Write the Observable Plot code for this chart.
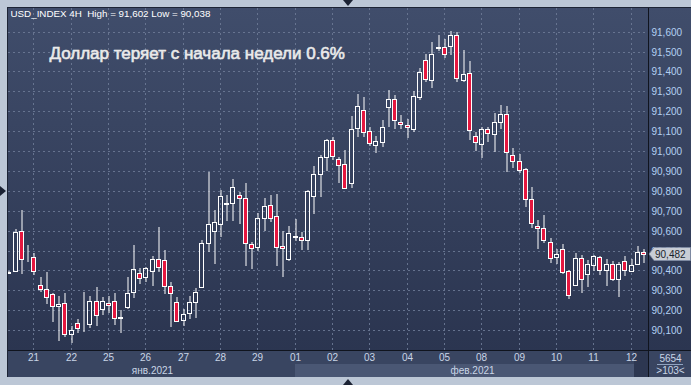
<!DOCTYPE html>
<html><head><meta charset="utf-8">
<script src="https://cdn.jsdelivr.net/npm/d3@7"></script>
<script src="https://cdn.jsdelivr.net/npm/@observablehq/plot@0.6"></script>
<style>
html,body{margin:0;padding:0;background:#bcc7d6;}
#wrap{position:relative;width:691px;height:385px;overflow:hidden;background:#bcc7d6;font-family:"Liberation Sans",Arial,sans-serif;}
#panel{position:absolute;left:7px;top:7px;width:684px;height:370px;background:linear-gradient(to bottom,#404d6b 0px,#2b3550 343px,#394561 343px,#394561 370px);border-left:1px solid #1d2435;border-top:1px solid #1d2435;box-sizing:border-box;}
#feb{position:absolute;left:295px;top:364px;width:339px;height:13px;background:#4a5774;}
#scroll{position:absolute;left:634px;top:351px;width:14px;height:26px;background:#2d3751;}
#hline{position:absolute;left:8px;top:350px;width:683px;height:1px;background:#10141e;}
#vline{position:absolute;left:648px;top:8px;width:1px;height:369px;background:#10141e;}
#sep{position:absolute;left:657px;top:364px;width:26px;height:1px;background:#8fa3c0;}
.tri{position:absolute;width:0;height:0;}
#tTop{left:343px;top:0;border-left:5px solid transparent;border-right:5px solid transparent;border-top:6px solid #1b2233;}
#tBot{left:343px;top:379px;border-left:5px solid transparent;border-right:5px solid transparent;border-bottom:6px solid #1b2233;}
#tLeft{left:0;top:186px;border-top:5px solid transparent;border-bottom:5px solid transparent;border-left:6px solid #1b2233;}
svg{position:absolute;left:0;top:0;}
</style></head>
<body>
<div id="wrap">
  <div id="panel"></div>
  <div id="feb"></div>
  <div id="scroll"></div>
  <div id="hline"></div>
  <div id="vline"></div>
  <div id="sep"></div>
  <div class="tri" id="tTop"></div>
  <div class="tri" id="tBot"></div>
  <div class="tri" id="tLeft"></div>
</div>
<script>
// ---- data ----
const title = "USD_INDEX 4H  High = 91,602 Low = 90,038";
const headline = "Доллар теряет с начала недели 0.6%";
const dayLabels = ["21","22","25","26","27","28","29","01","02","03","04","05","08","09","10","11","12"];
const dayStart = [4,10,16,22,28,34,40,46,52,58,64,70,76,82,88,94,100];
const monthLabels = ["янв.2021","фев.2021"];
const monthFrom = [0,46];
const monthTo = [46,103];
const yTicks = [90100,90200,90300,90400,90500,90600,90700,90800,90900,91000,91100,91200,91300,91400,91500,91600];
const lastPrice = 90482;
const cornerTop = "5654";
const cornerBottom = ">103<";

const open = [90389,90399,90599,90466,90467,90328,90306,90283,90221,90236,
90080,90135,90110,90133,90246,90205,90235,90246,90162,90218,
90291,90386,90366,90396,90456,90451,90321,90243,90150,90185,
90241,90319,90537,90597,90632,90735,90740,90778,90763,90532,
90517,90665,90728,90672,90524,90459,90568,90567,90555,90776,
90886,90972,91056,90959,90934,90838,91115,91205,91100,91031,
91044,91222,91260,91145,91133,91113,91270,91456,91356,91517,
91521,91526,91582,91356,91391,91075,91034,91110,91085,91145,
91185,90979,90949,90909,90758,90622,90612,90545,90466,90506,
90396,90326,90461,90381,90428,90466,90401,90434,90358,90446,
90399,90434,90492];
const high = [90396,90608,90704,90528,90486,90368,90393,90289,90273,90288,
90122,90157,90293,90273,90318,90268,90273,90288,90200,90368,
90528,90411,90418,90473,90619,90503,90341,90266,90207,90273,
90311,90554,90893,90702,90805,90780,90860,90793,90838,90542,
90687,90765,90778,90783,90597,90625,90659,90592,90806,90925,
90979,91062,91069,90972,91004,91175,91285,91272,91122,91076,
91157,91307,91282,91182,91160,91300,91416,91486,91546,91584,
91563,91602,91597,91508,91453,91098,91122,91122,91192,91232,
91225,91014,90984,90914,90818,90652,90677,90565,90509,90533,
90401,90489,90476,90454,90476,90473,90456,90446,90441,90474,
90456,90523,90509];
const low = [90386,90396,90383,90444,90376,90294,90233,90143,90048,90068,
90038,90085,90093,90110,90122,90177,90185,90128,90088,90207,
90264,90331,90341,90324,90394,90284,90118,90142,90123,90157,
90163,90311,90492,90431,90570,90650,90650,90632,90424,90409,
90500,90600,90645,90424,90366,90448,90550,90505,90505,90686,
90771,90901,90956,90838,90808,90813,91070,91070,91027,90989,
91022,91123,91110,91110,91065,91095,91257,91349,91319,91503,
91466,91483,91346,91346,91057,91001,90967,91047,90997,91110,
90897,90917,90889,90721,90612,90507,90537,90436,90431,90383,
90255,90323,90289,90316,90398,90379,90324,90348,90269,90373,
90394,90426,90439];
const close = [90393,90592,90456,90469,90399,90306,90266,90224,90233,90080,
90100,90110,90112,90246,90175,90246,90225,90160,90165,90288,
90406,90361,90411,90456,90418,90321,90286,90145,90180,90243,
90291,90537,90632,90642,90773,90739,90818,90763,90540,90512,
90662,90723,90662,90520,90512,90587,90572,90555,90798,90883,
90969,91054,90977,90929,90813,91113,91227,91095,91039,91049,
91120,91260,91155,91135,91123,91275,91396,91363,91486,91521,
91486,91582,91366,91386,91105,91044,91110,91090,91145,91185,
90994,90949,90904,90758,90637,90612,90552,90461,90481,90391,
90278,90461,90358,90431,90471,90401,90434,90356,90431,90401,
90429,90492,90482];

// ---- build ----
const candles = open.map((o, i) => ({
  k: i, open: o, high: high[i], low: low[i], close: close[i],
  top: Math.max(o, close[i]), bot: Math.min(o, close[i]), up: close[i] >= o
}));
const months = monthLabels.map((m, i) => ({label: m, mid: (monthFrom[i] + monthTo[i]) / 2}));
const hw = 2 / 6.2216;
const axisColor = "#b3d0f2";
const labelColor = "#c9d5e6";

const chart = Plot.plot({
  width: 691, height: 385,
  marginLeft: 8, marginRight: 43, marginTop: 8, marginBottom: 35,
  style: {background: "transparent", fontFamily: "'Liberation Sans', Arial, sans-serif", overflow: "visible"},
  x: {domain: [-0.064, 102.796], round: true, axis: null},
  y: {domain: [90000.5, 91719], round: true, axis: null},
  marks: [
    Plot.gridY(yTicks, {stroke: "#6b7995", strokeOpacity: 0.9, strokeDasharray: "2,3"}),
    Plot.gridX(dayStart, {stroke: "#6b7995", strokeOpacity: 0.9, strokeDasharray: "2,3"}),
    Plot.axisY(yTicks, {anchor: "right", tickSize: 0, tickPadding: 3, tickFormat: d3.format(","), fill: axisColor, fontSize: 10}),
    Plot.axisX(dayStart, {anchor: "bottom", tickSize: 0, tickPadding: 3, tickFormat: d => dayLabels[dayStart.indexOf(d)], fill: labelColor, fontSize: 10}),
    Plot.text(months, {x: "mid", text: "label", frameAnchor: "bottom", dy: 20, lineAnchor: "middle", fill: labelColor, fontSize: 10}),
    Plot.ruleX(candles, {x: "k", y1: "top", y2: "high", stroke: "#ffffff", strokeWidth: 1, dx: 0.5, clip: true}),
    Plot.ruleX(candles, {x: "k", y1: "low", y2: "bot", stroke: "#ffffff", strokeWidth: 1, dx: 0.5, clip: true}),
    Plot.rect(candles, {x1: d => d.k - hw, x2: d => d.k + hw, y1: "open", y2: "close",
      fill: d => d.up ? "none" : "#e5173f", stroke: "#ffffff", strokeWidth: 1, dx: 0.5, dy: 0.5, clip: true}),
    Plot.text([title], {frameAnchor: "top-left", dx: 2, dy: 2, lineAnchor: "top", fill: "#ffffff", fontSize: 9.8}),
    Plot.text([headline], {frameAnchor: "top-left", dx: 41, dy: 38, lineAnchor: "top", fill: "#eaeaea", stroke: "#eaeaea", strokeWidth: 0.6, fontSize: 17}),
    Plot.text([cornerTop], {frameAnchor: "bottom-right", dx: 22, dy: 8, textAnchor: "middle", lineAnchor: "middle", fill: labelColor, fontSize: 10}),
    Plot.text([cornerBottom], {frameAnchor: "bottom-right", dx: 22, dy: 20, textAnchor: "middle", lineAnchor: "middle", fill: labelColor, fontSize: 10})
  ]
});
document.getElementById("wrap").appendChild(chart);

// current price tag, positioned through the chart's y scale
const ys = chart.scale("y").apply(lastPrice);
const svg = d3.select(chart);
const tag = svg.append("g");
tag.append("path")
  .attr("d", `M649,${ys} L654,${ys - 6.5} L690.5,${ys - 6.5} L690.5,${ys + 6.5} L654,${ys + 6.5} Z`)
  .attr("fill", "#c8cdd5").attr("stroke", "#7d8aa3").attr("stroke-width", 0.8);
tag.append("text").attr("x", 655).attr("y", ys).attr("dy", "0.35em")
  .attr("text-anchor", "start")
  .attr("font-size", 10).attr("fill", "#1a1f2a").text(d3.format(",")(lastPrice));
</script>
</body></html>
